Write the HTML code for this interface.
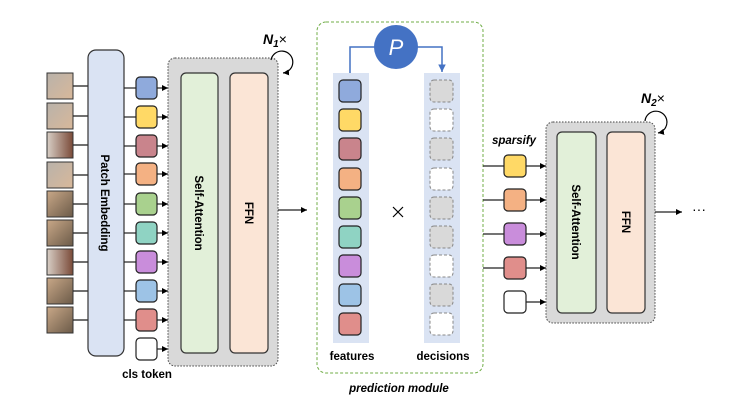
<!DOCTYPE html>
<html><head><meta charset="utf-8"><style>
html,body{margin:0;padding:0;background:#fff}
svg{display:block}
text{font-family:"Liberation Sans",sans-serif;font-weight:bold}
</style></head><body>
<svg width="736" height="409" viewBox="0 0 736 409" xmlns="http://www.w3.org/2000/svg">
<defs>
<marker id="a" markerWidth="6" markerHeight="6" refX="5" refY="3" orient="auto"><path d="M0,0.5 L5,3 L0,5.5z" fill="#000"/></marker>
<marker id="b" markerWidth="6" markerHeight="6" refX="5" refY="3" orient="auto"><path d="M0,0.5 L5,3 L0,5.5z" fill="#4472c4"/></marker>
<linearGradient id="g1" x1="0" y1="0" x2="1" y2="1"><stop offset="0" stop-color="#b9b2aa"/><stop offset="1" stop-color="#d8b89a"/></linearGradient>
<linearGradient id="g2" x1="0" y1="0" x2="1" y2="0"><stop offset="0" stop-color="#d8cfc6"/><stop offset="1" stop-color="#7a4a38"/></linearGradient>
<linearGradient id="g3" x1="0" y1="0" x2="1" y2="1"><stop offset="0" stop-color="#c9a888"/><stop offset="1" stop-color="#6b5a48"/></linearGradient>
</defs>
<g stroke="#333" stroke-width="1">
<rect x="47" y="73" width="26" height="26" fill="url(#g1)"/>
<rect x="47" y="103" width="26" height="26" fill="url(#g1)"/>
<rect x="47" y="132" width="26" height="26" fill="url(#g2)"/>
<rect x="47" y="162" width="26" height="26" fill="url(#g1)"/>
<rect x="47" y="191" width="26" height="26" fill="url(#g3)"/>
<rect x="47" y="220" width="26" height="26" fill="url(#g3)"/>
<rect x="47" y="249" width="26" height="26" fill="url(#g2)"/>
<rect x="47" y="278" width="26" height="26" fill="url(#g3)"/>
<rect x="47" y="307" width="26" height="26" fill="url(#g3)"/>
</g>
<g stroke="#222" stroke-width="1.3">
<line x1="73" y1="86" x2="88" y2="86"/><line x1="73" y1="116" x2="88" y2="116"/><line x1="73" y1="145" x2="88" y2="145"/>
<line x1="73" y1="175" x2="88" y2="175"/><line x1="73" y1="204" x2="88" y2="204"/><line x1="73" y1="233" x2="88" y2="233"/>
<line x1="73" y1="262" x2="88" y2="262"/><line x1="73" y1="291" x2="88" y2="291"/><line x1="73" y1="320" x2="88" y2="320"/>
</g>
<rect x="88" y="50" width="36" height="306" rx="8" fill="#dae3f3" stroke="#333" stroke-width="1.2"/>
<text transform="translate(101,203) rotate(90)" text-anchor="middle" font-size="11.5">Patch Embedding</text>
<g stroke="#222" stroke-width="1.2">
<line x1="124" y1="88" x2="136" y2="88"/><line x1="124" y1="117" x2="136" y2="117"/><line x1="124" y1="146" x2="136" y2="146"/>
<line x1="124" y1="174" x2="136" y2="174"/><line x1="124" y1="204" x2="136" y2="204"/><line x1="124" y1="233" x2="136" y2="233"/>
<line x1="124" y1="262" x2="136" y2="262"/><line x1="124" y1="291" x2="136" y2="291"/><line x1="124" y1="320" x2="136" y2="320"/>
</g>
<g stroke="#222" stroke-width="1.2" marker-end="url(#a)">
<line x1="157" y1="88" x2="168" y2="88"/><line x1="157" y1="117" x2="168" y2="117"/><line x1="157" y1="146" x2="168" y2="146"/>
<line x1="157" y1="174" x2="168" y2="174"/><line x1="157" y1="204" x2="168" y2="204"/><line x1="157" y1="233" x2="168" y2="233"/>
<line x1="157" y1="262" x2="168" y2="262"/><line x1="157" y1="291" x2="168" y2="291"/><line x1="157" y1="320" x2="168" y2="320"/>
<line x1="157" y1="349" x2="168" y2="349"/>
</g>
<g stroke="#222" stroke-width="1.2">
<rect x="136" y="77" width="21" height="22" rx="4" fill="#8faadc"/>
<rect x="136" y="106" width="21" height="22" rx="4" fill="#ffd966"/>
<rect x="136" y="135" width="21" height="22" rx="4" fill="#c9848c"/>
<rect x="136" y="163" width="21" height="22" rx="4" fill="#f4b183"/>
<rect x="136" y="193" width="21" height="22" rx="4" fill="#a9d18e"/>
<rect x="136" y="222" width="21" height="22" rx="4" fill="#8fd3c3"/>
<rect x="136" y="251" width="21" height="22" rx="4" fill="#c98ddb"/>
<rect x="136" y="280" width="21" height="22" rx="4" fill="#9dc3e6"/>
<rect x="136" y="309" width="21" height="22" rx="4" fill="#e08e8b"/>
<rect x="136" y="338" width="21" height="22" rx="4" fill="#fff"/>
</g>
<text x="147" y="378" text-anchor="middle" font-size="11.5">cls token</text>
<rect x="168" y="58" width="110" height="308" rx="7" fill="#d9d9d9" stroke="#444" stroke-width="1" stroke-dasharray="1.5,1.5"/>
<rect x="181" y="73" width="37" height="280" rx="5" fill="#e2f0d9" stroke="#333" stroke-width="1.2"/>
<rect x="230" y="73" width="38" height="280" rx="5" fill="#fbe5d6" stroke="#333" stroke-width="1.2"/>
<text transform="translate(195,213) rotate(90)" text-anchor="middle" font-size="11.5">Self-Attention</text>
<text transform="translate(245,213) rotate(90)" text-anchor="middle" font-size="11.5">FFN</text>
<text x="263" y="44" font-family="Liberation Serif" font-style="italic" font-size="14">N<tspan font-size="10" dy="3">1</tspan><tspan dy="-3" font-style="normal" font-weight="normal">×</tspan></text>
<path d="M271,60 A11,11 0 1 1 283,73" fill="none" stroke="#000" stroke-width="1.2" marker-end="url(#a)"/>
<line x1="278" y1="210" x2="307" y2="210" stroke="#222" stroke-width="1.2" marker-end="url(#a)"/>
<rect x="317" y="22" width="166" height="351" rx="9" fill="none" stroke="#70ad47" stroke-width="1" stroke-dasharray="3,2"/>
<rect x="333" y="73" width="36" height="270" fill="#dae3f3"/>
<rect x="424" y="73" width="36" height="270" fill="#dae3f3"/>
<path d="M350,73 V47 H380" fill="none" stroke="#4472c4" stroke-width="1.5"/>
<path d="M412,47 H442 V72" fill="none" stroke="#4472c4" stroke-width="1.5" marker-end="url(#b)"/>
<circle cx="396" cy="47" r="22" fill="#4472c4"/>
<text x="396" y="55" text-anchor="middle" fill="#fff" font-style="italic" style="font-weight:normal" font-size="22">P</text>
<g stroke="#222" stroke-width="1.2">
<rect x="339" y="80" width="22" height="22" rx="4" fill="#8faadc"/>
<rect x="339" y="109" width="22" height="22" rx="4" fill="#ffd966"/>
<rect x="339" y="138" width="22" height="22" rx="4" fill="#c9848c"/>
<rect x="339" y="168" width="22" height="22" rx="4" fill="#f4b183"/>
<rect x="339" y="197" width="22" height="22" rx="4" fill="#a9d18e"/>
<rect x="339" y="226" width="22" height="22" rx="4" fill="#8fd3c3"/>
<rect x="339" y="255" width="22" height="22" rx="4" fill="#c98ddb"/>
<rect x="339" y="284" width="22" height="22" rx="4" fill="#9dc3e6"/>
<rect x="339" y="313" width="22" height="22" rx="4" fill="#e08e8b"/>
</g>
<g stroke="#888" stroke-width="1" stroke-dasharray="3,2">
<rect x="430" y="80" width="23" height="22" rx="4" fill="#d9d9d9"/>
<rect x="430" y="109" width="23" height="22" rx="4" fill="#fff"/>
<rect x="430" y="138" width="23" height="22" rx="4" fill="#d9d9d9"/>
<rect x="430" y="168" width="23" height="22" rx="4" fill="#fff"/>
<rect x="430" y="197" width="23" height="22" rx="4" fill="#d9d9d9"/>
<rect x="430" y="226" width="23" height="22" rx="4" fill="#d9d9d9"/>
<rect x="430" y="255" width="23" height="22" rx="4" fill="#fff"/>
<rect x="430" y="284" width="23" height="22" rx="4" fill="#d9d9d9"/>
<rect x="430" y="313" width="23" height="22" rx="4" fill="#fff"/>
</g>
<path d="M393,207 L403,217 M403,207 L393,217" stroke="#000" stroke-width="1.2"/>
<text x="352" y="360" text-anchor="middle" font-size="11.5">features</text>
<text x="443" y="360" text-anchor="middle" font-size="11.5">decisions</text>
<text x="399" y="392" text-anchor="middle" font-style="italic" font-size="11.5">prediction module</text>
<text x="514" y="144" text-anchor="middle" font-style="italic" font-size="11.5">sparsify</text>
<g stroke="#222" stroke-width="1.2">
<line x1="483" y1="166" x2="504" y2="166"/><line x1="483" y1="200" x2="504" y2="200"/>
<line x1="483" y1="234" x2="504" y2="234"/><line x1="483" y1="268" x2="504" y2="268"/>
</g>
<g stroke="#222" stroke-width="1.2" marker-end="url(#a)">
<line x1="526" y1="166" x2="546" y2="166"/><line x1="526" y1="200" x2="546" y2="200"/>
<line x1="526" y1="234" x2="546" y2="234"/><line x1="526" y1="268" x2="546" y2="268"/>
<line x1="526" y1="302" x2="546" y2="302"/>
</g>
<g stroke="#222" stroke-width="1.2">
<rect x="504" y="155" width="22" height="22" rx="4" fill="#ffd966"/>
<rect x="504" y="189" width="22" height="22" rx="4" fill="#f4b183"/>
<rect x="504" y="223" width="22" height="22" rx="4" fill="#c98ddb"/>
<rect x="504" y="257" width="22" height="22" rx="4" fill="#e08e8b"/>
<rect x="504" y="291" width="22" height="22" rx="4" fill="#fff"/>
</g>
<rect x="546" y="122" width="109" height="201" rx="7" fill="#d9d9d9" stroke="#444" stroke-width="1" stroke-dasharray="1.5,1.5"/>
<rect x="557" y="132" width="39" height="181" rx="5" fill="#e2f0d9" stroke="#333" stroke-width="1.2"/>
<rect x="607" y="132" width="38" height="181" rx="5" fill="#fbe5d6" stroke="#333" stroke-width="1.2"/>
<text transform="translate(572,222) rotate(90)" text-anchor="middle" font-size="11.5">Self-Attention</text>
<text transform="translate(622,222) rotate(90)" text-anchor="middle" font-size="11.5">FFN</text>
<text x="641" y="103" font-family="Liberation Serif" font-style="italic" font-size="14">N<tspan font-size="10" dy="3">2</tspan><tspan dy="-3" font-style="normal" font-weight="normal">×</tspan></text>
<path d="M645,121 A11,11 0 1 1 658,133" fill="none" stroke="#000" stroke-width="1.2" marker-end="url(#a)"/>
<line x1="655" y1="212" x2="682" y2="212" stroke="#222" stroke-width="1.2" marker-end="url(#a)"/>
<text x="699" y="214" text-anchor="middle" style="font-weight:normal" font-size="14">···</text>
</svg>
</body></html>
